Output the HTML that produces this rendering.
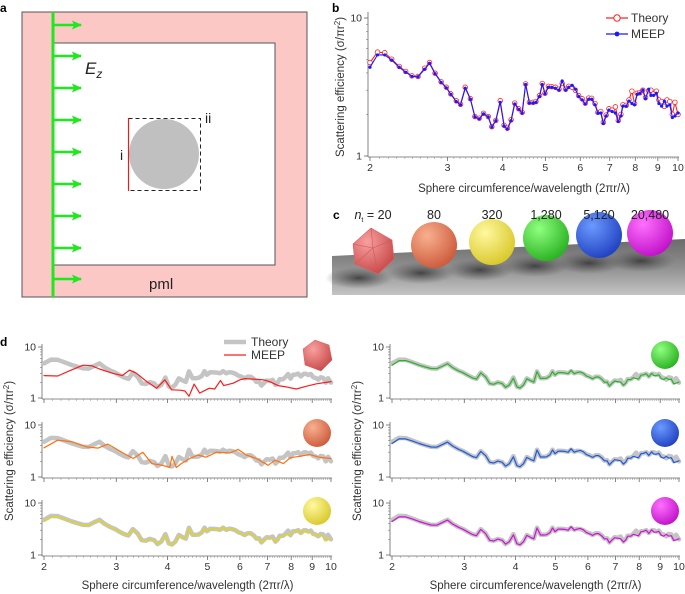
<!DOCTYPE html>
<html><head><meta charset="utf-8">
<style>
html,body{margin:0;padding:0;background:#fff;}
svg{display:block;font-family:"Liberation Sans",sans-serif;}
</style></head>
<body>
<svg id="fig" width="685" height="594" viewBox="0 0 685 594" xmlns="http://www.w3.org/2000/svg">
<defs>
<linearGradient id="floor" x1="0" y1="0" x2="0" y2="1">
<stop offset="0" stop-color="#6a6a6a"/><stop offset="0.5" stop-color="#8f8f8f"/><stop offset="1" stop-color="#c4c4c4"/>
</linearGradient>
<radialGradient id="gRed" cx="0.35" cy="0.3" r="0.75"><stop offset="0" stop-color="#f8a0a0"/><stop offset="1" stop-color="#c84848"/></radialGradient>
<radialGradient id="gOr" cx="0.35" cy="0.3" r="0.75"><stop offset="0" stop-color="#f8b090"/><stop offset="1" stop-color="#cc5a3a"/></radialGradient>
<radialGradient id="gYe" cx="0.35" cy="0.3" r="0.75"><stop offset="0" stop-color="#fff8a0"/><stop offset="1" stop-color="#d8c828"/></radialGradient>
<radialGradient id="gGr" cx="0.35" cy="0.3" r="0.75"><stop offset="0" stop-color="#90ff80"/><stop offset="1" stop-color="#28b020"/></radialGradient>
<radialGradient id="gBl" cx="0.35" cy="0.3" r="0.75"><stop offset="0" stop-color="#6a9aff"/><stop offset="1" stop-color="#2040c0"/></radialGradient>
<radialGradient id="gMa" cx="0.35" cy="0.3" r="0.75"><stop offset="0" stop-color="#ff70ff"/><stop offset="1" stop-color="#c010c8"/></radialGradient>
<radialGradient id="shadow" cx="0.5" cy="0.5" r="0.5"><stop offset="0" stop-color="#3a3a3a" stop-opacity="0.9"/><stop offset="1" stop-color="#555" stop-opacity="0"/></radialGradient>
<marker id="arr" markerWidth="10" markerHeight="9" refX="9" refY="4.5" orient="auto" markerUnits="userSpaceOnUse"><path d="M0,0 L10,4.5 L0,9 L2,4.5 Z" fill="#1ee81e"/></marker>
</defs>

<!-- Panel a -->
<g>
<text x="0" y="12" font-size="12" font-weight="bold">a</text>
<rect x="22" y="12" width="285" height="285" fill="#fcc8c6" stroke="#555" stroke-width="1"/>
<rect x="53" y="43" width="222" height="222" fill="#fff" stroke="#555" stroke-width="1"/>
<g id="arrows"></g>
<line x1="53" y1="12" x2="53" y2="297" stroke="#1ee81e" stroke-width="3"/>
<text x="85" y="74" font-size="17" font-style="italic" fill="#222">E<tspan font-size="12" dy="4">z</tspan></text>
<circle cx="164" cy="154" r="35" fill="#c0c0c0"/>
<rect x="128.5" y="118.5" width="72" height="72" fill="none" stroke="#222" stroke-width="1" stroke-dasharray="4,3"/>
<line x1="128.5" y1="118" x2="128.5" y2="191" stroke="#e02020" stroke-width="1.2"/>
<text x="120" y="160" font-size="14" fill="#222">i</text>
<text x="205" y="123" font-size="14" fill="#222">ii</text>
<text x="149" y="289" font-size="15" fill="#222">pml</text>
</g>

<!-- Panel c -->
<g>
<text x="333" y="219" font-size="12" font-weight="bold">c</text>
<polygon points="332,256 685,239 685,295 332,295" fill="url(#floor)"/>
<g id="cspheres"></g>
</g>

<g id="plots"></g>
</svg>

<script>
// ---------- Data ----------
const xTheory = [2.00,2.08,2.16,2.24,2.33,2.41,2.49,2.57,2.66,2.73,2.81,2.90,2.98,3.05,3.14,3.21,3.29,3.38,3.46,3.54,3.62,3.71,3.78,3.86,3.95,4.03,4.10,4.18,4.26,4.35,4.43,4.51,4.60,4.69,4.76,4.85,4.92,4.99,5.08,5.17,5.27,5.37,5.46,5.56,5.65,5.75,5.85,5.95,6.06,6.16,6.27,6.37,6.48,6.58,6.68,6.77,6.87,6.97,7.09,7.21,7.32,7.42,7.50,7.63,7.74,7.86,7.97,8.08,8.19,8.32,8.44,8.58,8.68,8.80,8.93,9.05,9.18,9.31,9.44,9.58,9.71,9.84,10.0];
const yTheory = [4.76,5.66,5.60,5.03,4.46,4.10,3.81,3.77,4.33,4.76,3.98,3.45,3.15,2.82,2.51,2.37,3.15,2.60,1.93,1.88,2.04,1.93,1.63,1.81,2.52,1.67,1.59,1.83,2.42,2.20,2.07,3.33,2.45,2.45,2.48,2.74,3.35,2.85,3.20,3.18,3.15,3.05,3.35,3.05,3.20,3.15,3.00,2.74,2.60,2.42,2.63,2.62,2.40,2.07,2.10,1.75,1.98,2.20,2.15,2.27,1.81,2.00,2.35,2.33,2.55,2.95,2.40,2.85,2.87,3.00,2.65,2.97,3.00,2.82,2.95,2.55,2.48,2.29,2.55,2.48,2.00,2.45,2.00];
const yMeep = [4.40,5.40,5.40,4.95,4.40,4.05,3.78,3.75,4.25,4.70,3.95,3.42,3.12,2.80,2.48,2.35,3.10,2.58,1.92,1.86,2.02,1.92,1.62,1.80,2.45,1.65,1.57,1.80,2.38,2.18,2.05,3.30,2.42,2.42,2.45,2.70,3.30,2.82,3.15,3.15,3.10,3.00,3.50,3.00,3.15,3.25,3.05,2.70,2.55,2.38,2.58,2.58,2.35,2.05,2.05,1.72,1.95,2.15,2.10,2.05,1.78,1.95,2.30,2.30,2.50,2.40,2.35,2.80,2.85,3.00,2.60,3.05,2.75,2.75,2.85,2.40,2.30,2.50,2.30,2.35,1.90,1.95,2.05];
const xRed = [2.00,2.16,2.33,2.49,2.61,2.73,2.94,3.10,3.23,3.36,3.56,3.76,3.94,4.09,4.29,4.41,4.51,4.64,4.79,5.05,5.21,5.38,5.48,5.78,6.00,6.17,6.46,6.84,7.09,7.43,7.78,8.23,8.72,9.22,10.0];
const yRed = [2.75,2.70,3.53,4.40,4.30,3.70,3.05,2.75,3.53,3.05,2.10,1.56,2.27,1.45,1.42,1.37,1.08,1.87,1.25,1.56,1.50,2.20,1.75,1.95,2.27,2.40,2.35,2.27,2.10,1.75,1.65,1.50,1.70,1.90,2.10];
const xOrange = [2.00,2.16,2.33,2.54,2.71,2.86,2.94,3.10,3.30,3.48,3.66,3.89,4.05,4.10,4.20,4.32,4.53,4.74,4.96,5.26,5.67,5.94,6.22,6.58,7.03,7.30,7.66,7.96,8.39,8.86,9.36,10.0];
const yOrange = [3.64,5.10,4.80,3.80,3.60,4.30,3.80,2.96,2.27,3.00,1.81,1.68,1.52,2.50,1.52,1.81,2.27,2.65,2.40,3.00,2.90,3.40,2.65,2.27,1.68,2.10,1.81,2.35,2.50,2.70,2.40,2.27];
const xTicks = [2,3,4,5,6,7,8,9,10];
const xTickLabels = ["2","3","4","5","6","7","8","9","10"];
const yMajor = [1,10];
const yMinor = [2,3,4,5,6,7,8,9];

const NS = "http://www.w3.org/2000/svg";
function mk(tag, attrs, parent){
  const e = document.createElementNS(NS, tag);
  for (const k in attrs) e.setAttribute(k, attrs[k]);
  if (parent) parent.appendChild(e);
  return e;
}
const minorX = [];
for (let d=2; d<10; d++){ for (let k=1;k<10;k++){ const v=d+k/10; minorX.push(v);} }

// arrows in panel a
const arrowYs = [25,56,88,120,152,184,216,248,279];
const arrowsG = document.getElementById('arrows');
arrowYs.forEach(function(y,i){
  const l = mk('line',{x1:54,y1:y,x2:81,y2:y,stroke:'#1ee81e','stroke-width':2.4,'marker-end':'url(#arr)'},arrowsG);
  
  
});

// panel c spheres
const cG = document.getElementById('cspheres');
const cLabels = ["20","80","320","1,280","5,120","20,480"];
const cFills = ['url(#gRed)','url(#gOr)','url(#gYe)','url(#gGr)','url(#gBl)','url(#gMa)'];
const cX = [373,434,492,546,599,650];
const cY = [250,245,242,238,235,233];
cX.forEach(function(x,i){
  const sh = mk('ellipse',{cx:x-14+i*1,cy:cY[i]+28,rx:34,ry:11,fill:'url(#shadow)'},cG);
  
  
  let s;
  if (i===0){
    s = mk('polygon',{points:[x-20,cY[i]-6, x-2,cY[i]-22, x+19,cY[i]-10, x+21,cY[i]+9, x+5,cY[i]+24, x-18,cY[i]+14].join(','),fill:'url(#gRed)',stroke:'#e06060','stroke-width':0.6},cG);
    mk('polyline',{points:[x-20,cY[i]-6,x,cY[i]-2,x-2,cY[i]-22,x,cY[i]-2,x+19,cY[i]-10,x,cY[i]-2,x+5,cY[i]+24,x,cY[i]-2,x-18,cY[i]+14].join(','),fill:'none',stroke:'#d05858','stroke-width':0.6},cG);
  } else {
    s = mk('circle',{cx:x,cy:cY[i],r:23,fill:cFills[i]},cG);
  }
  
  
  const t = mk('text',{x:x,y:219,'font-size':12.5,'text-anchor':'middle',fill:'#222'},cG);
  t.textContent = (i===0? '' : cLabels[i]);
  if (i===0){
    const a = mk('tspan',{'font-style':'italic'},t); a.textContent='n';
    const b = mk('tspan',{'font-size':7,dy:3},t); b.textContent='t';
    const c = mk('tspan',{dy:-3},t); c.textContent=' = 20';
  }
  
  
});

// ---------- plotting ----------
const plots = document.getElementById('plots');
function axes(g, x0, x1, yTop, yBot, showLabels, spineTop){
  const sx = function(v){ return x0 + Math.log10(v/2)/Math.log10(5)*(x1-x0); };
  const sy = function(v){ return yBot - Math.log10(v)*(yBot-yTop); };
  const ax = mk('g',{},g);
  
  
  const ys = mk('line',{x1:x0-2,y1:spineTop,x2:x0-2,y2:yBot+1,stroke:'#666','stroke-width':0.8},ax);
  
  
  const xs = mk('line',{x1:x0-2,y1:yBot+1,x2:x1+1,y2:yBot+1,stroke:'#666','stroke-width':0.8},ax);
  
  
  yMajor.forEach(function(v){
    mk('line',{x1:x0-6,y1:sy(v),x2:x0-2,y2:sy(v),stroke:'#666','stroke-width':0.8},ax);
    const t = mk('text',{x:x0-8,y:sy(v)+3.5,'font-size':10.5,'text-anchor':'end',fill:'#333'},ax);
    t.textContent = String(v);
    
    
  });
  yMinor.forEach(function(v){
    mk('line',{x1:x0-4,y1:sy(v),x2:x0-2,y2:sy(v),stroke:'#777','stroke-width':0.6},ax);
  });
  xTicks.forEach(function(v,i){
    mk('line',{x1:sx(v),y1:yBot+1,x2:sx(v),y2:yBot+5,stroke:'#666','stroke-width':0.8},ax);
    if (showLabels){
      const t = mk('text',{x:sx(v),y:yBot+15,'font-size':10.5,'text-anchor':'middle',fill:'#333'},ax);
      t.textContent = xTickLabels[i];
      
      
    }
  });
  minorX.forEach(function(v){
    mk('line',{x1:sx(v),y1:yBot+1,x2:sx(v),y2:yBot+3,stroke:'#888','stroke-width':0.5},ax);
  });
  return {sx:sx, sy:sy};
}
function line(g, xsArr, ysArr, s, stroke, w){
  const d = xsArr.map(function(x,i){ return (i?'L':'M')+s.sx(x).toFixed(1)+','+s.sy(ysArr[i]).toFixed(1); }).join(' ');
  return mk('path',{d:d,fill:'none',stroke:stroke,'stroke-width':w,'stroke-linejoin':'round','stroke-linecap':'round'},g);
}

// Panel b
const gb = mk('g',{},plots);


const tb = mk('text',{x:332,y:12,'font-size':12,'font-weight':'bold'},gb); tb.textContent='b';


const sb = axes(gb, 370, 678, 18, 156, true, 12);
const thB = line(gb, xTheory, yTheory, sb, '#ff2020', 1.1);


xTheory.forEach(function(x,i){
  const c = mk('circle',{cx:sb.sx(x),cy:sb.sy(yTheory[i]),r:2.3,fill:'#fff',stroke:'#ff2020','stroke-width':0.8},gb);
  
  
});
const mB = line(gb, xTheory, yMeep, sb, '#1a1aff', 1.1);


xTheory.forEach(function(x,i){
  const c = mk('circle',{cx:sb.sx(x),cy:sb.sy(yMeep[i]),r:1.6,fill:'#1a1aff'},gb);
  
  
});
const ybT = mk('text',{x:0,y:0,'font-size':11.5,'text-anchor':'middle',fill:'#333',transform:'translate(344,87) rotate(-90)'},gb);
ybT.innerHTML = 'Scattering efficiency (σ/πr<tspan font-size="8" dy="-4">2</tspan><tspan dy="4">)</tspan>';


const xbT = mk('text',{x:524,y:192,'font-size':11.5,'text-anchor':'middle',fill:'#333'},gb);
xbT.textContent = 'Sphere circumference/wavelength (2πr/λ)';


// legend b
const lg = mk('g',{},gb);


mk('line',{x1:606,y1:18,x2:628,y2:18,stroke:'#ff2020','stroke-width':1.3},lg);
mk('circle',{cx:617,cy:18,r:3.2,fill:'#fff',stroke:'#ff2020','stroke-width':1},lg);
const lt1 = mk('text',{x:631,y:22,'font-size':12,fill:'#333'},lg); lt1.textContent='Theory';


mk('line',{x1:606,y1:34,x2:628,y2:34,stroke:'#1a1aff','stroke-width':1.3},lg);
mk('circle',{cx:617,cy:34,r:2.4,fill:'#1a1aff'},lg);
const lt2 = mk('text',{x:631,y:38,'font-size':12,fill:'#333'},lg); lt2.textContent='MEEP';



// Panel d
const gd = mk('g',{},plots);


const td = mk('text',{x:0,y:346,'font-size':12,'font-weight':'bold'},gd); td.textContent='d';


const rows = [[347,398],[425,477],[503,555]];
const cols = [[44,331],[392,679]];
const meepX = [[xRed,xOrange,xTheory],[xTheory,xTheory,xTheory]];
const meepY = [[yRed,yOrange,yMeep],[yMeep,yMeep,yMeep]];
const meepC = [['#ff1a1a','#ff7010','#e6d800'],['#22b822','#1a5ae0','#d010d8']];
const iconF = [['url(#gRed)','url(#gOr)','url(#gYe)'],['url(#gGr)','url(#gBl)','url(#gMa)']];
cols.forEach(function(c,ci){
  rows.forEach(function(r,ri){
    const g = mk('g',{},gd);
    
    
    const s = axes(g, c[0], c[1], r[0], r[1], ri===2, r[0]-3);
    const th = line(g, xTheory, yTheory, s, '#c4c4c4', 4.5);
    
    
    const m = line(g, meepX[ci][ri], meepY[ci][ri], s, meepC[ci][ri], 1.2);
    
    
    const ix = c[1]-14, iy = r[0]+8;
    let ic;
    if (ci===0 && ri===0){
      ic = mk('polygon',{points:[ix-14,iy-6, ix-2,iy-15, ix+12,iy-10, ix+15,iy+5, ix+4,iy+16, ix-12,iy+10].join(','),fill:'url(#gRed)',stroke:'#d86060','stroke-width':0.5},g);
    } else {
      ic = mk('circle',{cx:ix,cy:iy,r:14,fill:iconF[ci][ri]},g);
    }
    
    
  });
  const yt = mk('text',{x:0,y:0,'font-size':11.5,'text-anchor':'middle',fill:'#333',transform:'translate('+(c[0]-31)+',451) rotate(-90)'},gd);
  yt.innerHTML = 'Scattering efficiency (σ/πr<tspan font-size="8" dy="-4">2</tspan><tspan dy="4">)</tspan>';
  
  
  const xt = mk('text',{x:(c[0]+c[1])/2,y:589,'font-size':11.5,'text-anchor':'middle',fill:'#333'},gd);
  xt.textContent = 'Sphere circumference/wavelength (2πr/λ)';
  
  
});
// legend d
const ld = mk('g',{},gd);


mk('line',{x1:224,y1:342,x2:246,y2:342,stroke:'#c4c4c4','stroke-width':4.5},ld);
const d1 = mk('text',{x:251,y:346,'font-size':12,fill:'#333'},ld); d1.textContent='Theory';


mk('line',{x1:224,y1:355,x2:246,y2:355,stroke:'#ff1a1a','stroke-width':1.3},ld);
const d2 = mk('text',{x:251,y:359,'font-size':12,fill:'#333'},ld); d2.textContent='MEEP';


</script>
</body></html>
